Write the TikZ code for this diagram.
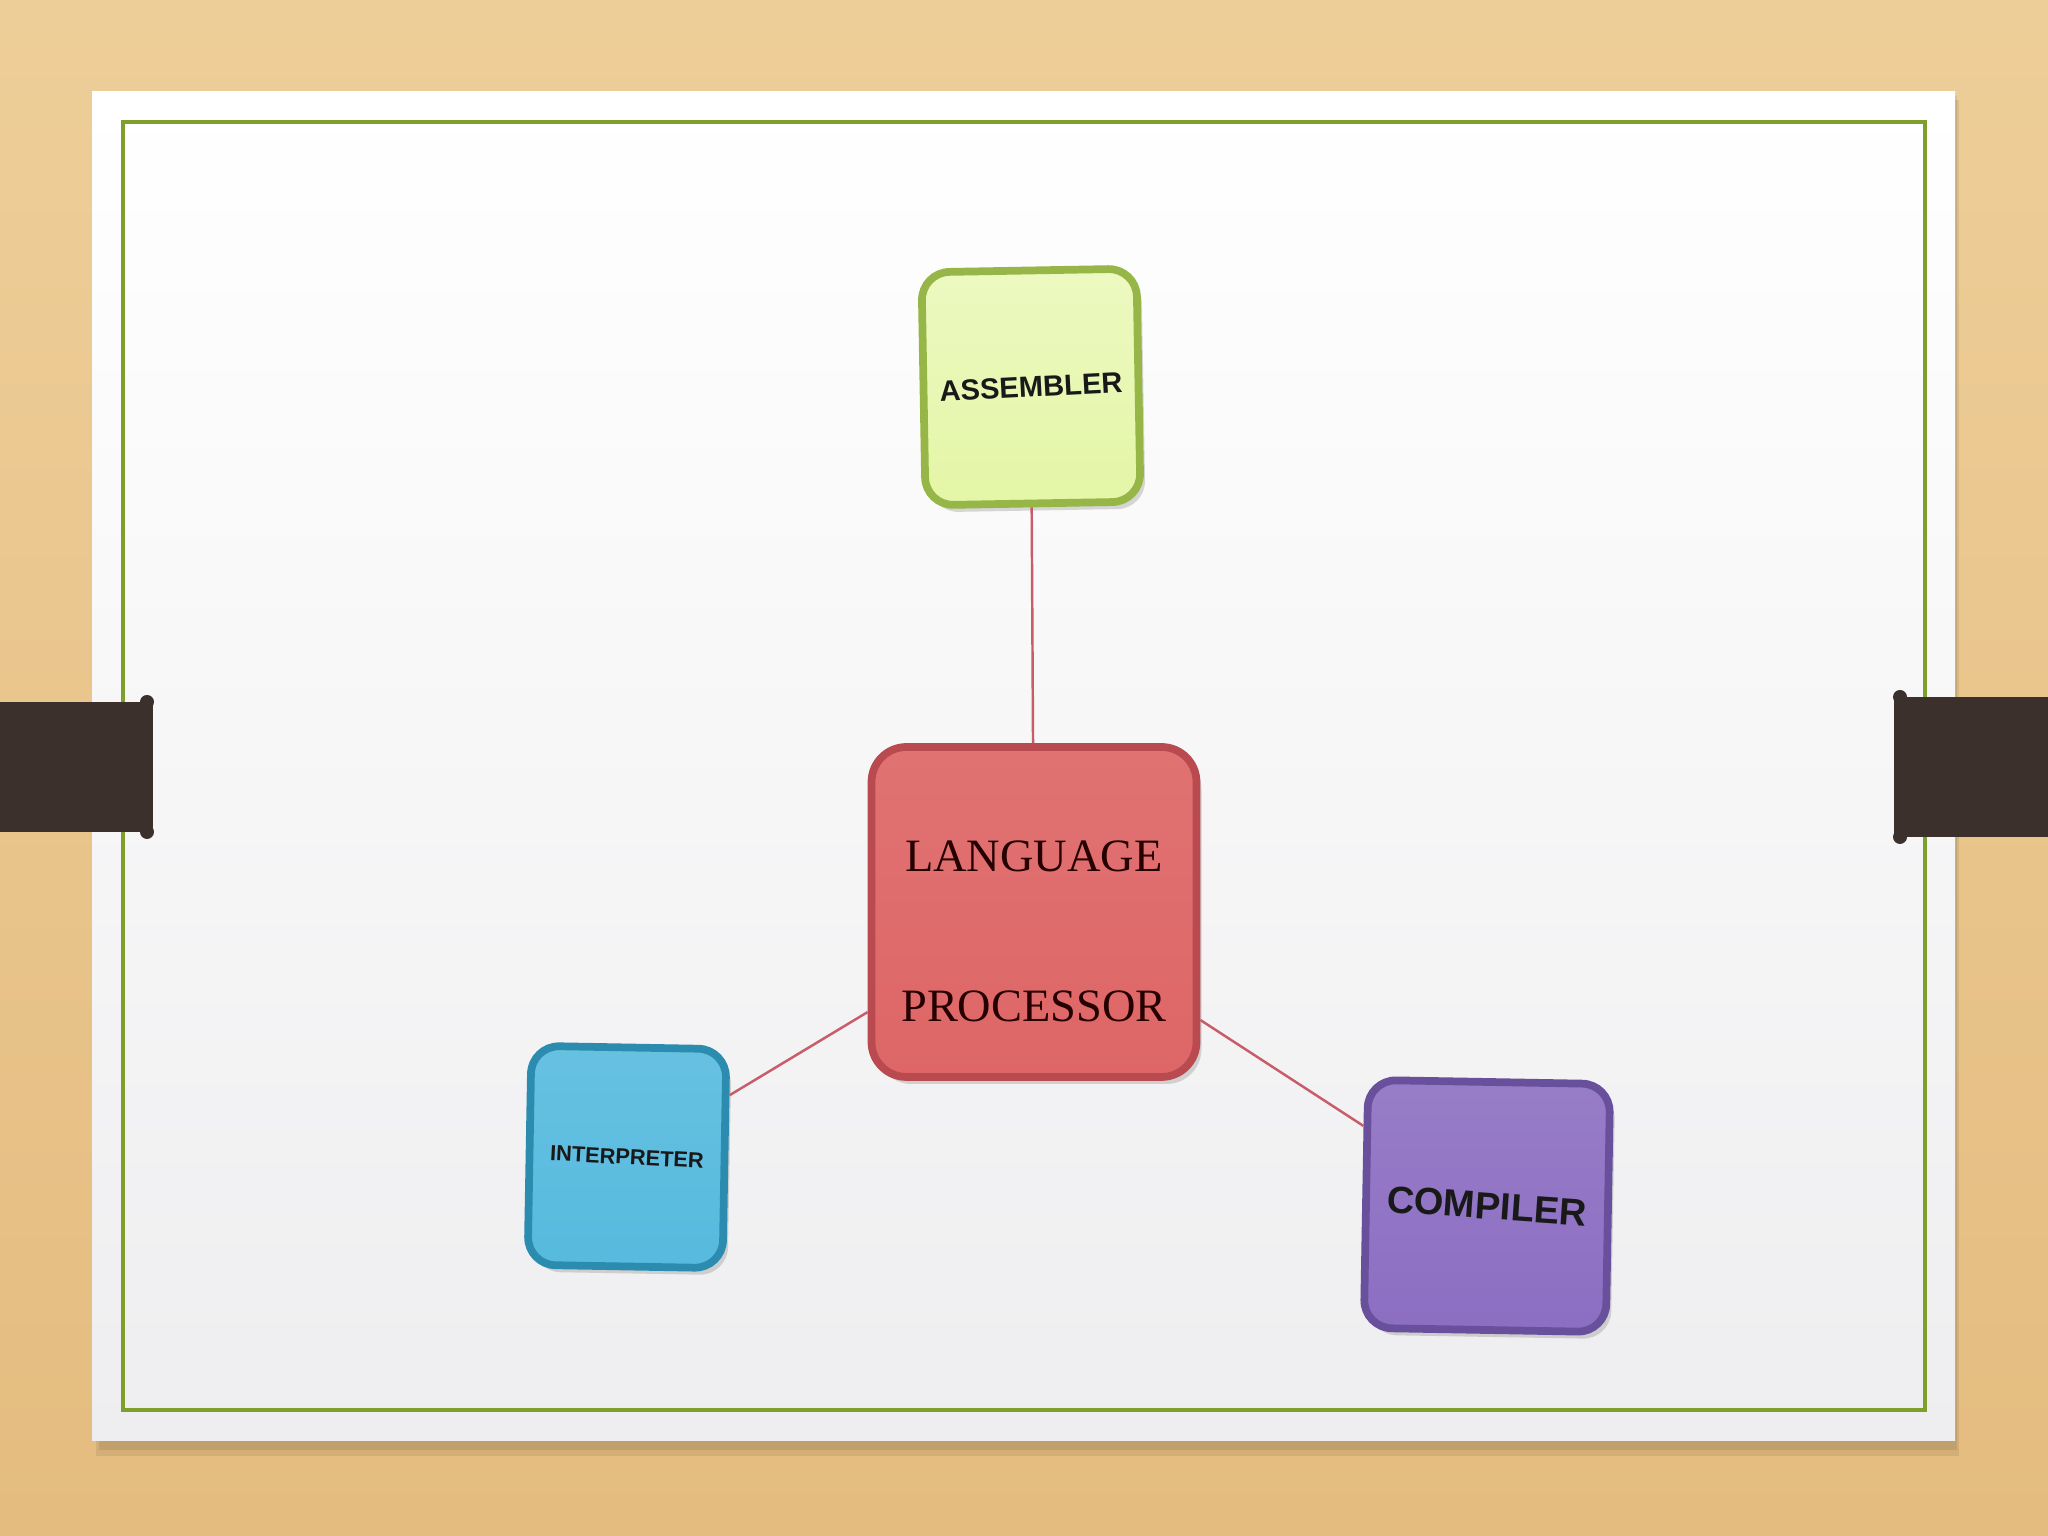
\documentclass[tikz,border=0pt]{standalone}
\usepackage{fontspec}
\setmainfont{Liberation Serif}
\setsansfont{Liberation Sans}
\usetikzlibrary{positioning, shadows, backgrounds}
\definecolor{woodtop}{RGB}{238,206,152}
\definecolor{woodbot}{RGB}{228,188,128}
\definecolor{paper}{RGB}{238,238,240}
\definecolor{frame}{RGB}{124,160,42}
\definecolor{clipbrown}{RGB}{60,48,45}
\definecolor{linkred}{RGB}{200,92,104}
\definecolor{asmfill}{RGB}{228,246,166}
\definecolor{asmdraw}{RGB}{150,182,72}
\definecolor{lpfill}{RGB}{222,102,102}
\definecolor{lpdraw}{RGB}{184,74,80}
\definecolor{intfill}{RGB}{86,186,222}
\definecolor{intdraw}{RGB}{44,140,176}
\definecolor{compfill}{RGB}{140,110,194}
\definecolor{compdraw}{RGB}{104,80,156}
\newcommand{\Tilt}[2]{\rotatebox{#1}{#2}}
\tikzset{
    tile/.style={rectangle, rounded corners=2.8mm, line width=2.2pt, text=black!90,
      drop shadow={shadow xshift=0.5mm, shadow yshift=-0.7mm, opacity=0.3}},
    boxlabel/.style={font=\sffamily\bfseries\fontsize{#1}{#1}\selectfont},
    link/.style={draw=linkred, line width=0.7pt},
}

\begin{document}
\begin{tikzpicture}
    \tikzset{
      asmtile/.style={tile, draw=asmdraw, top color=asmfill!70!white, bottom color=asmfill},
      lptile/.style={tile, rounded corners=3.5mm, draw=lpdraw, top color=lpfill!92!white, bottom color=lpfill},
      inttile/.style={tile, draw=intdraw, top color=intfill!90!white, bottom color=intfill},
      comptile/.style={tile, draw=compdraw, top color=compfill!90!white, bottom color=compfill},
    }

    % board, paper and clips
    \shade[top color=woodtop, bottom color=woodbot] (0,0) rectangle (20.48,15.36);
    \fill[black, opacity=0.08] (0.96,0.80) rectangle (19.59,14.36);
    \fill[black, opacity=0.08] (0.99,0.86) rectangle (19.57,14.40);
    \shade[top color=white, bottom color=paper] (0.92,0.95) rectangle (19.55,14.44);
    \draw[frame, line width=0.9pt] (1.23,1.26) rectangle (19.25,14.14);
    \fill[clipbrown] (0,7.04) rectangle (1.53,8.34);
    \fill[clipbrown] (1.47,8.34) circle (0.07) (1.47,7.04) circle (0.07);
    \fill[clipbrown] (18.94,6.99) rectangle (20.48,8.39);
    \fill[clipbrown] (19.00,8.39) circle (0.07) (19.00,6.99) circle (0.07);

    \node[lptile, minimum width=3.25cm, minimum height=3.3cm, align=center,
          font=\fontsize{13.2}{42.7}\selectfont, text=black!85!red] (lp) at (10.34,6.24)
          {\rule{0pt}{20pt}LANGUAGE\\PROCESSOR};
    \node[asmtile, minimum width=2.15cm, minimum height=2.33cm, rotate=1,
          boxlabel=8.3] (asm) at (10.31,11.49) {\Tilt{2}{ASSEMBLER}};
    \node[inttile, minimum width=1.95cm, minimum height=2.19cm, rotate=-1,
          boxlabel=6.2] (int) at (6.27,3.79) {\Tilt{-2}{INTERPRETER}};
    \node[comptile, minimum width=2.42cm, minimum height=2.48cm, rotate=-1,
          boxlabel=10.8] (comp) at (14.87,3.30) {\Tilt{-3}{COMPILER}};

    \draw[link] (lp) -- (asm);
    \draw[link] (lp) -- (int);
    \draw[link] (lp) -- (comp);
\end{tikzpicture}
\end{document}
